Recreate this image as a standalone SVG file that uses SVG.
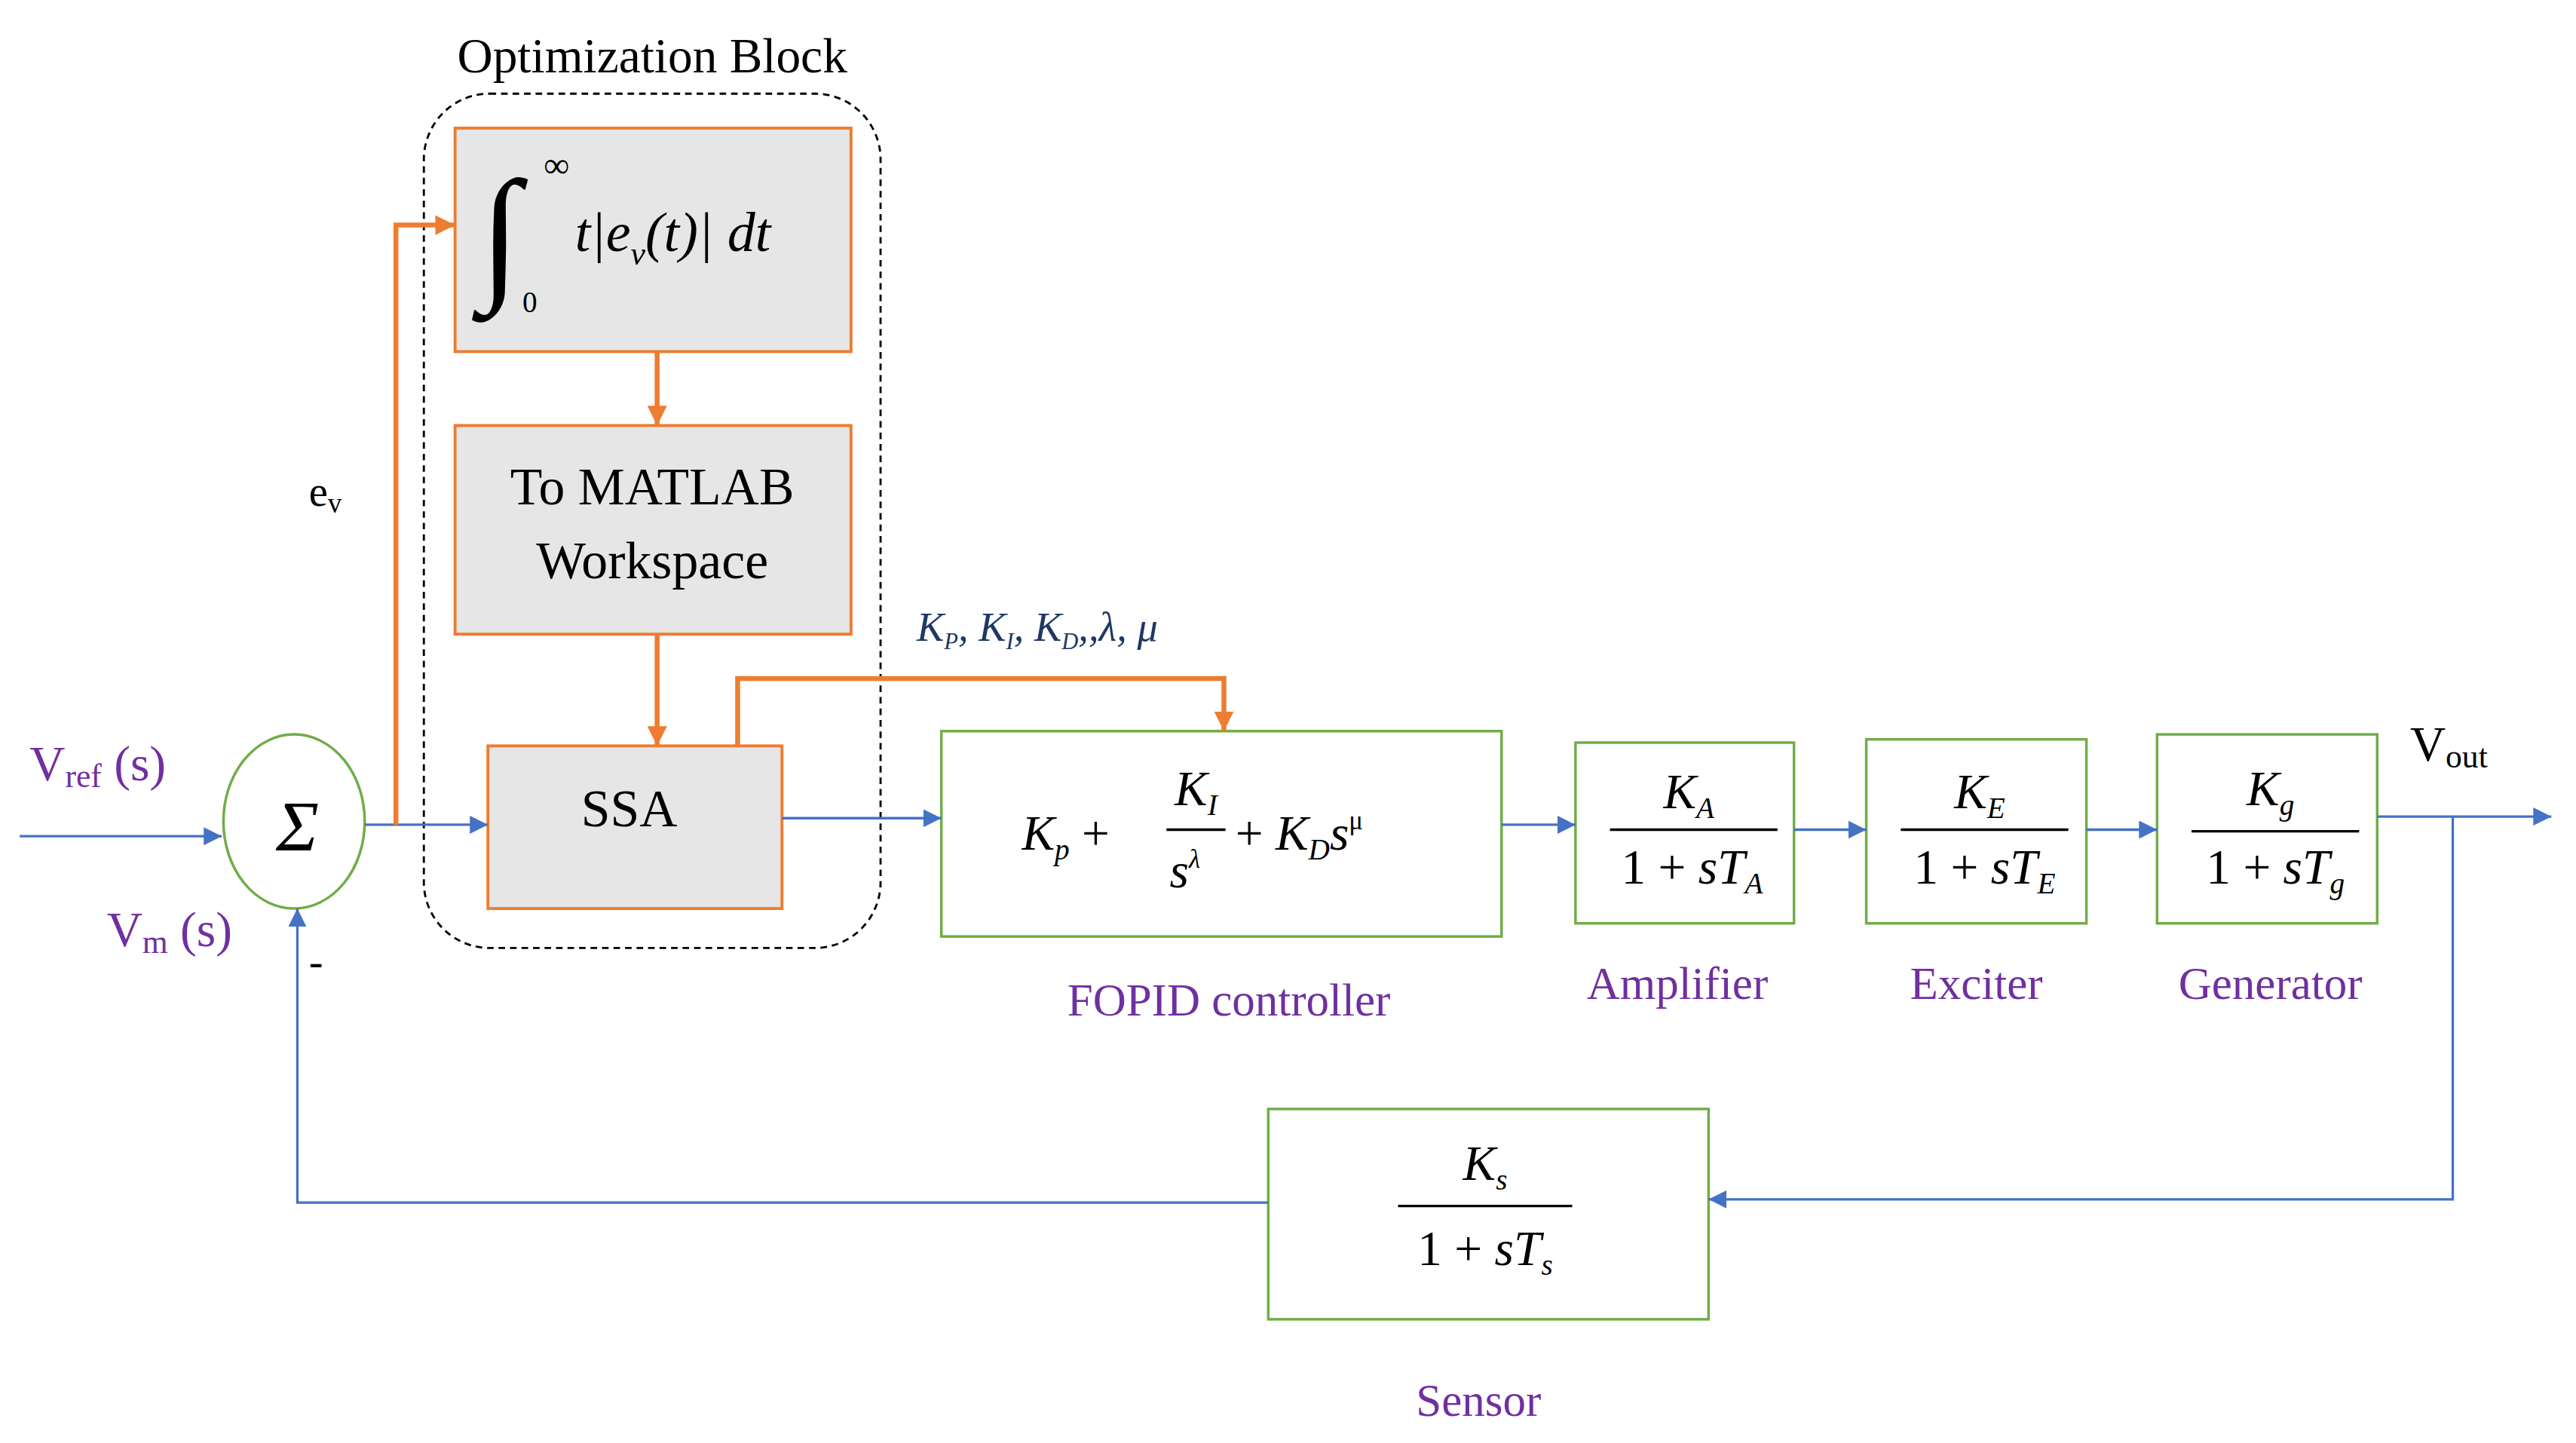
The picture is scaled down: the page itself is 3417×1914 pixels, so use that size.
<svg xmlns="http://www.w3.org/2000/svg" width="3417" height="1914" viewBox="0 0 3417 1914" font-family="'Liberation Serif', Tinos, 'Times New Roman', 'DejaVu Serif', serif">
<style>
text{font-family:"Liberation Serif",Tinos,"Times New Roman","DejaVu Serif",serif;fill:#000}
.m{font-style:italic}
.p{fill:#7030A0}
.blk{fill:#fff;stroke:#70AD47;stroke-width:1.6}
.opt{fill:#E6E6E6;stroke:#ED7D31;stroke-width:1.8}
.bl{fill:none;stroke:#4472C4;stroke-width:1.5}
.or{fill:none;stroke:#ED7D31;stroke-width:3}
</style>
<defs>
<marker id="ab" viewBox="0 0 10 10" refX="10" refY="5" markerWidth="11" markerHeight="11" markerUnits="userSpaceOnUse" orient="auto"><path d="M0,0L10,5L0,10z" fill="#4472C4"/></marker>
<marker id="ao" viewBox="0 0 10 10" refX="10" refY="5" markerWidth="12" markerHeight="12" markerUnits="userSpaceOnUse" orient="auto"><path d="M0,0L10,5L0,10z" fill="#ED7D31"/></marker>
</defs>
<rect width="3417" height="1914" fill="#fff"/>
<g transform="scale(2.1792)">
<g id="optblock">
<rect x="258" y="57" width="278" height="520" rx="40" fill="none" stroke="#000" stroke-width="1.3" stroke-dasharray="4,3"/>
<text x="397" y="44" font-size="30" text-anchor="middle">Optimization Block</text>
</g>
<g id="itae">
<rect class="opt" x="277" y="78" width="241" height="136"/>
<text x="292" y="172" font-size="90" class="m">∫</text>
<text x="331" y="108" font-size="22">∞</text>
<text x="318" y="190" font-size="18">0</text>
<text x="350" y="153" font-size="34" class="m">t|e<tspan font-size="20" dy="8">v</tspan><tspan dy="-8">(t)| dt</tspan></text>
</g>
<g id="matlab">
<rect class="opt" x="277" y="259" width="241" height="127"/>
<text x="397" y="307" font-size="32" text-anchor="middle">To MATLAB</text>
<text x="397" y="352" font-size="32" text-anchor="middle">Workspace</text>
</g>
<g id="ssa">
<rect class="opt" x="297" y="454" width="179" height="99"/>
<text x="383" y="503" font-size="32" text-anchor="middle">SSA</text>
</g>
<g id="sum">
<ellipse cx="179" cy="500" rx="43" ry="53" fill="#fff" stroke="#70AD47" stroke-width="1.6"/>
<text x="181" y="518" font-size="44" text-anchor="middle" class="m">Σ</text>
</g>
<g id="fopid">
<rect class="blk" x="573" y="445" width="341" height="125"/>
<text x="622" y="517" font-size="30" class="m">K<tspan font-size="18" dy="6">p</tspan><tspan dy="-6" font-style="normal"> +</tspan></text>
<text x="728" y="490" font-size="30" class="m" text-anchor="middle">K<tspan font-size="18" dy="6">I</tspan></text>
<line x1="710" y1="505" x2="746" y2="505" stroke="#000" stroke-width="1.5"/>
<text x="712" y="540" font-size="30" class="m">s<tspan font-size="16" dy="-12">λ</tspan></text>
<text x="752" y="517" font-size="30" class="m"><tspan font-style="normal">+ </tspan>K<tspan font-size="18" dy="6">D</tspan><tspan dy="-6">s</tspan><tspan font-size="16" dy="-12" font-style="normal">μ</tspan></text>
<text x="748" y="618" font-size="28" text-anchor="middle" class="p">FOPID controller</text>
</g>
<g id="amp">
<rect class="blk" x="959" y="452" width="133" height="110"/>
<text x="1028" y="492" font-size="30" class="m" text-anchor="middle">K<tspan font-size="18" dy="6">A</tspan></text>
<line x1="980" y1="505" x2="1082" y2="505" stroke="#000" stroke-width="1.5"/>
<text x="1030" y="538" font-size="30" text-anchor="middle">1 + <tspan class="m">sT</tspan><tspan class="m" font-size="18" dy="6">A</tspan></text>
<text x="1021" y="608" font-size="28" text-anchor="middle" class="p">Amplifier</text>
</g>
<g id="exc">
<rect class="blk" x="1136" y="450" width="134" height="112"/>
<text x="1205" y="492" font-size="30" class="m" text-anchor="middle">K<tspan font-size="18" dy="6">E</tspan></text>
<line x1="1157" y1="505" x2="1259" y2="505" stroke="#000" stroke-width="1.5"/>
<text x="1208" y="538" font-size="30" text-anchor="middle">1 + <tspan class="m">sT</tspan><tspan class="m" font-size="18" dy="6">E</tspan></text>
<text x="1203" y="608" font-size="28" text-anchor="middle" class="p">Exciter</text>
</g>
<g id="gen">
<rect class="blk" x="1313" y="447" width="134" height="115"/>
<text x="1382" y="490" font-size="30" class="m" text-anchor="middle">K<tspan font-size="18" dy="6">g</tspan></text>
<line x1="1334" y1="506" x2="1436" y2="506" stroke="#000" stroke-width="1.5"/>
<text x="1385" y="538" font-size="30" text-anchor="middle">1 + <tspan class="m">sT</tspan><tspan class="m" font-size="18" dy="6">g</tspan></text>
<text x="1382" y="608" font-size="28" text-anchor="middle" class="p">Generator</text>
</g>
<g id="sensor">
<rect class="blk" x="772" y="675" width="268" height="128"/>
<text x="904" y="718" font-size="30" class="m" text-anchor="middle">K<tspan font-size="18" dy="6">s</tspan></text>
<line x1="851" y1="734" x2="957" y2="734" stroke="#000" stroke-width="1.5"/>
<text x="904" y="770" font-size="30" text-anchor="middle">1 + <tspan class="m">sT</tspan><tspan class="m" font-size="18" dy="6">s</tspan></text>
<text x="900" y="862" font-size="28" text-anchor="middle" class="p">Sensor</text>
</g>
<g id="labels">
<text x="18" y="475" font-size="30" class="p">V<tspan font-size="20" dy="4">ref</tspan><tspan dy="-4"> (s)</tspan></text>
<text x="65" y="576" font-size="30" class="p">V<tspan font-size="20" dy="4">m</tspan><tspan dy="-4"> (s)</tspan></text>
<text x="188" y="594" font-size="26">-</text>
<text x="188" y="308" font-size="26">e<tspan font-size="17" dy="4">v</tspan></text>
<text x="1467" y="463" font-size="30">V<tspan font-size="20" dy="4">out</tspan></text>
<text x="558" y="390" font-size="25" class="m" style="fill:#1F3864">K<tspan font-size="14" dy="5">P</tspan><tspan dy="-5">, K</tspan><tspan font-size="14" dy="5">I</tspan><tspan dy="-5">, K</tspan><tspan font-size="14" dy="5">D</tspan><tspan dy="-5">,,λ, μ</tspan></text>
</g>
<g id="connectors">
<path class="bl" d="M12,509H135" marker-end="url(#ab)"/>
<path class="bl" d="M222,502H297" marker-end="url(#ab)"/>
<path class="bl" d="M476,498H573" marker-end="url(#ab)"/>
<path class="bl" d="M914,502H959" marker-end="url(#ab)"/>
<path class="bl" d="M1092,505H1136" marker-end="url(#ab)"/>
<path class="bl" d="M1270,505H1313" marker-end="url(#ab)"/>
<path class="bl" d="M1447,497H1553" marker-end="url(#ab)"/>
<path class="bl" d="M1493,497V730H1040" marker-end="url(#ab)"/>
<path class="bl" d="M772,732H181V553" marker-end="url(#ab)"/>
<path class="or" d="M241,502V137H277" marker-end="url(#ao)"/>
<path class="or" d="M400,214V259" marker-end="url(#ao)"/>
<path class="or" d="M400,386V454" marker-end="url(#ao)"/>
<path class="or" d="M449,454V413H745V445" marker-end="url(#ao)"/>
</g>
</g>
</svg>
